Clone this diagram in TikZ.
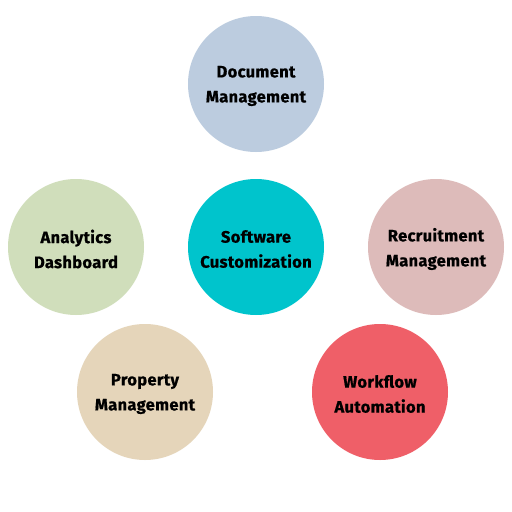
\documentclass[tikz,border=0pt]{standalone}
\usepackage{fontspec}
\setmainfont{Fira Sans}[BoldFeatures={FakeBold=0.8,LetterSpace=2}]
\begin{document}
\begin{tikzpicture}[x=1pt,y=-1pt,
  bubble/.style={circle,minimum size=136pt,inner sep=0pt,text width=130pt,align=center,
    font=\fontsize{16.5}{25}\selectfont\bfseries,text=black}]
\definecolor{cDoc}{HTML}{BCCCDF}
\definecolor{cSoft}{HTML}{00C4CC}
\definecolor{cAna}{HTML}{D0DEBB}
\definecolor{cRec}{HTML}{DDBBBA}
\definecolor{cProp}{HTML}{E5D5BA}
\definecolor{cWork}{HTML}{EF5F68}
\useasboundingbox[fill=white] (0,0) rectangle (512,512);
\node[bubble,fill=cDoc] (doc) at (256,84) {};
\node[bubble,fill=cSoft] (soft) at (256,247) {};
\node[bubble,fill=cAna] (ana) at (76,247) {};
\node[bubble,fill=cRec] (rec) at (436,247) {};
\node[bubble,fill=cProp] (prop) at (145,392) {};
\node[bubble,fill=cWork] (work) at (380,392) {};
\path (doc.center) ++(0,2) node[bubble] {Document\\Management};
\path (soft.center) ++(0,2) node[bubble] {Software\\Customization};
\path (ana.center) ++(0,2) node[bubble] {Analytics\\Dashboard};
\path (rec.center) ++(0,2) node[bubble] {Recruitment\\Management};
\path (prop.center) ++(0,2) node[bubble] {Property\\Management};
\path (work.center) ++(0,2) node[bubble] {Workflow\\Automation};
\end{tikzpicture}
\end{document}
